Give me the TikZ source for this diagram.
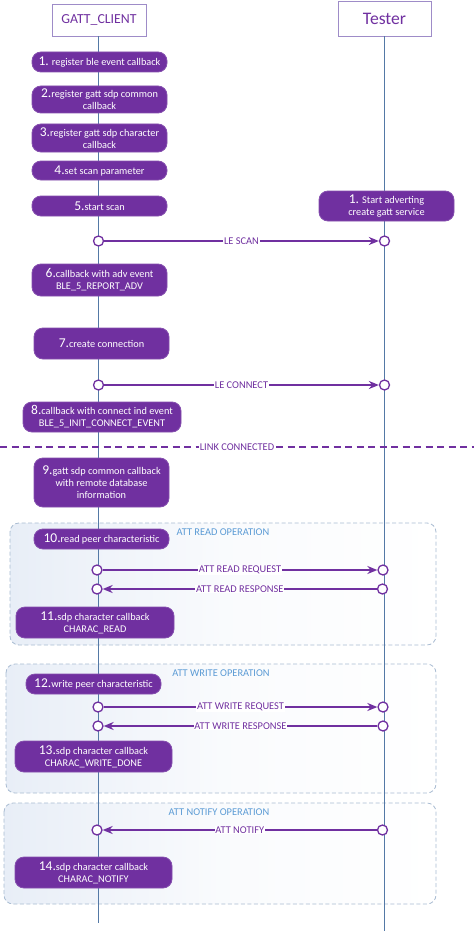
\documentclass[tikz,border=0pt]{standalone}
\usepackage{fontspec}
\setmainfont{Carlito}
\usetikzlibrary{arrows.meta}
\definecolor{pp}{HTML}{7030A0}
\definecolor{life}{HTML}{5479A6}
\definecolor{hdr}{HTML}{9E8CC8}
\definecolor{grp}{HTML}{A9BCD2}
\definecolor{grptxt}{HTML}{5B9BD5}
\definecolor{shade}{HTML}{E8EEF7}
\newcommand{\nm}[1]{{\fontsize{13.5}{12}\selectfont #1}}
\tikzset{
  proc/.style={fill=pp, draw=pp!85!white, line width=0.8pt, rounded corners=9pt, text=white,
    font=\fontsize{10.3}{12}\selectfont, align=center, inner sep=0pt},
  hdrbox/.style={draw=hdr, fill=white, line width=0.8pt, text=pp, inner sep=0pt},
  lifeline/.style={draw=life, line width=1.1pt},
  circ/.style={circle, draw=pp, fill=white, line width=1.3pt, minimum size=10pt, inner sep=0pt},
  msg/.style={draw=pp, line width=2.5pt, -{Stealth[length=10pt,width=8pt]}},
  lbl/.style={fill=white, text=pp, font=\fontsize{10.4}{11}\selectfont, inner sep=0.6pt},
  group/.style={draw=grp, dashed, dash pattern=on 4pt off 2.5pt, line width=0.8pt, rounded corners=9pt,
    left color=shade, right color=white, middle color=white!75!shade},
  grplbl/.style={text=grptxt, font=\fontsize{10.4}{11}\selectfont, inner sep=0pt}
}
\begin{document}
\begin{tikzpicture}[x=1pt, y=-1pt]
\useasboundingbox[fill=white] (0,0) rectangle (474,931);
% groups
\draw[group] (10,523) rectangle (436,645);
\node[grplbl] (g1) at (223,532) {ATT READ OPERATION};
\draw[group] (6,664) rectangle (436,793);
\node[grplbl] (g2) at (221,673) {ATT WRITE OPERATION};
\draw[group] (4,803) rectangle (436,904);
\node[grplbl] (g3) at (219,812) {ATT NOTIFY OPERATION};
% headers
\node[hdrbox, minimum width=94pt, minimum height=32pt, font=\fontsize{13.8}{14}\selectfont] (gc) at (99,20) {GATT\_CLIENT};
\node[hdrbox, minimum width=93pt, minimum height=35pt, font=\fontsize{17.6}{18}\selectfont] (ts) at (384.5,18.5) {Tester};
\coordinate (gcend) at (98.5,923);
\coordinate (tsend) at (384.5,931);
\draw[lifeline] (gc.south -| gcend) -- (gcend);
\draw[lifeline] (ts.south -| tsend) -- (tsend);
% link connected
\coordinate (lcl) at (0,447);
\coordinate (lcr) at (474,447);
\draw[draw=pp, line width=2.4pt, dash pattern=on 7pt off 4.5pt] (lcl) -- node[lbl] (lc) {LINK CONNECTED} (lcr);
% process boxes
\node[proc, minimum width=135pt, minimum height=20pt] (p1) at (99.5,62) {\nm{1.} register ble event callback};
\node[proc, minimum width=135pt, minimum height=27pt] (p2) at (99.5,99.5) {\nm{2.}register gatt sdp common\\callback};
\node[proc, minimum width=135pt, minimum height=28pt] (p3) at (99.5,138) {\nm{3.}register gatt sdp character\\callback};
\node[proc, minimum width=135pt, minimum height=19pt] (p4) at (99.5,170.5) {\nm{4.}set scan parameter};
\node[proc, minimum width=135pt, minimum height=20pt] (p5) at (99.5,206) {\nm{5.}start scan};
\node[proc, minimum width=135pt, minimum height=30pt] (t1) at (386.5,206) {\nm{1.} Start adverting\\create gatt service};
\node[proc, minimum width=135pt, minimum height=32pt] (p6) at (99.5,280) {\nm{6.}callback with adv event\\BLE\_5\_REPORT\_ADV};
\node[proc, minimum width=135pt, minimum height=31pt] (p7) at (101.5,343.5) {\nm{7.}create connection};
\node[proc, minimum width=158pt, minimum height=30pt] (p8) at (102,417) {\nm{8.}callback with connect ind event\\BLE\_5\_INIT\_CONNECT\_EVENT};
\node[proc, minimum width=135pt, minimum height=49pt] (p9) at (101.5,482.5) {\nm{9.}gatt sdp common callback\\with remote database\\information};
\node[proc, minimum width=135pt, minimum height=20pt] (p10) at (101.5,539) {\nm{10.}read peer characteristic};
\node[proc, minimum width=158pt, minimum height=31pt] (p11) at (95,622.5) {\nm{11.}sdp character callback\\CHARAC\_READ};
\node[proc, minimum width=135pt, minimum height=20pt] (p12) at (93.5,684) {\nm{12.}write peer characteristic};
\node[proc, minimum width=157pt, minimum height=31pt] (p13) at (93.5,756.5) {\nm{13.}sdp character callback\\CHARAC\_WRITE\_DONE};
\node[proc, minimum width=157pt, minimum height=31pt] (p14) at (93.5,872.5) {\nm{14.}sdp character callback\\CHARAC\_NOTIFY};
% messages
\node[circ] (a1) at (98.5,241) {}; \node[circ] (b1) at (384.5,241) {};
\draw[msg] (a1) -- node[lbl] {LE SCAN} (b1);
\node[circ] (a2) at (98.5,385) {}; \node[circ] (b2) at (384.5,385) {};
\draw[msg] (a2) -- node[lbl] {LE CONNECT} (b2);
\node[circ] (a3) at (97,570) {}; \node[circ] (b3) at (383,570) {};
\draw[msg] (a3) -- node[lbl] {ATT READ REQUEST} (b3);
\node[circ] (a4) at (97,589) {}; \node[circ] (b4) at (382.5,589) {};
\draw[msg] (b4) -- node[lbl] {ATT READ RESPONSE} (a4);
\node[circ] (a5) at (98,707) {}; \node[circ] (b5) at (383,707) {};
\draw[msg] (a5) -- node[lbl] {ATT WRITE REQUEST} (b5);
\node[circ] (a6) at (98,726) {}; \node[circ] (b6) at (383,726) {};
\draw[msg] (b6) -- node[lbl] {ATT WRITE RESPONSE} (a6);
\node[circ] (a7) at (97,830) {}; \node[circ] (b7) at (382.5,830) {};
\draw[msg] (b7) -- node[lbl] {ATT NOTIFY} (a7);
\end{tikzpicture}
\end{document}
